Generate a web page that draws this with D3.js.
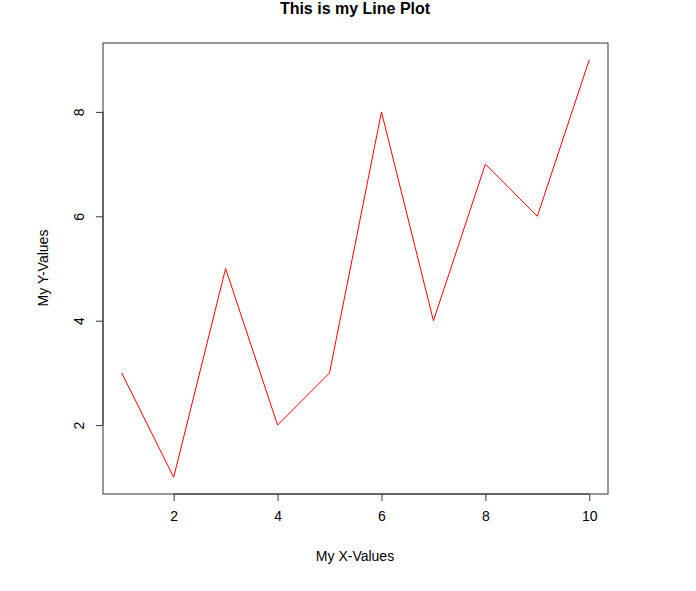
<!DOCTYPE html>
<html><head><meta charset="utf-8">
<script src="https://cdn.jsdelivr.net/npm/d3@7"></script>
<style>body{margin:0;background:#fff}text{font-family:"Liberation Sans",Arial,sans-serif}</style>
</head><body>
<svg id="c" width="696" height="591"></svg>
<script>
const xValues = [1,2,3,4,5,6,7,8,9,10];
const yValues = [3,1,5,2,3,8,4,7,6,9];
const xTicks = [2,4,6,8,10];
const yTicks = [2,4,6,8];
const title = "This is my Line Plot", xLabel = "My X-Values", yLabel = "My Y-Values";

const svg = d3.select("#c");
const L=103,R=608,T=43,B=494;
const x = d3.scaleLinear().domain([0.64,10.36]).range([L,R]);
const y = d3.scaleLinear().domain([0.68,9.32]).range([B,T]);

svg.append("rect").attr("x",L).attr("y",T).attr("width",R-L).attr("height",B-T)
  .attr("fill","none").attr("stroke","#333").attr("stroke-width",1);

svg.append("path").datum(xValues.map((v,i)=>[v,yValues[i]]))
  .attr("d",d3.line().x(d=>x(d[0])).y(d=>y(d[1])))
  .attr("fill","none").attr("stroke","#ff0000").attr("stroke-width",1);

const xa = svg.append("g").attr("transform",`translate(0,${B})`)
  .call(d3.axisBottom(x).tickValues(xTicks).tickSize(7).tickPadding(10).tickSizeOuter(0));
xa.select(".domain").attr("d",`M${x(2)},0H${x(10)}`).attr("stroke","#333");
const ya = svg.append("g").attr("transform",`translate(${L},0)`)
  .call(d3.axisLeft(y).tickValues(yTicks).tickSize(7).tickPadding(10).tickSizeOuter(0));
ya.select(".domain").attr("d",`M0,${y(2)}V${y(8)}`).attr("stroke","#333");
ya.selectAll(".tick text").attr("transform","rotate(-90)").attr("text-anchor","middle")
  .attr("x",0).attr("dy",0).attr("y",-19);
svg.selectAll(".tick line").attr("stroke","#333");
svg.selectAll(".tick text").attr("font-size",14).attr("fill","#000").attr("font-family","Liberation Sans, Arial, sans-serif");

svg.append("text").attr("x",355).attr("y",14).attr("text-anchor","middle")
  .attr("font-size",16).attr("font-weight","bold").text(title);
svg.append("text").attr("x",355).attr("y",561).attr("text-anchor","middle")
  .attr("font-size",14).text(xLabel);
svg.append("text").attr("transform","translate(48,268) rotate(-90)").attr("text-anchor","middle")
  .attr("font-size",14).text(yLabel);
</script>
</body></html>
